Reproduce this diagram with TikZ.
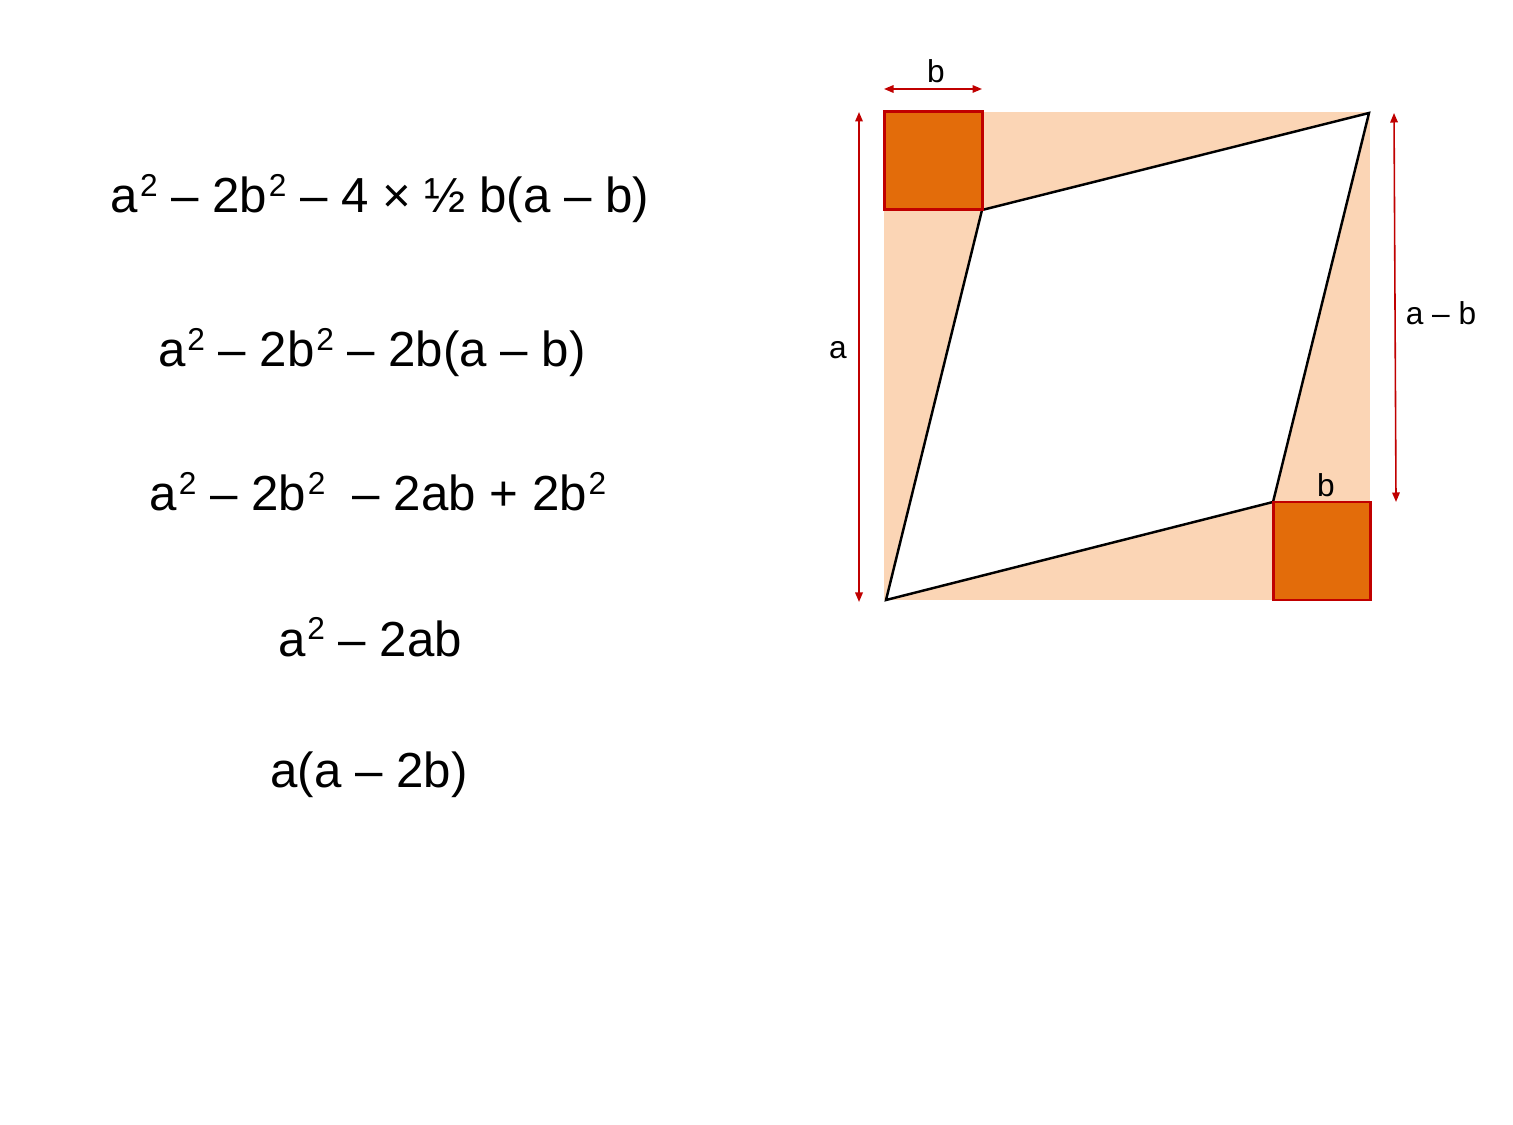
\documentclass[tikz,border=0pt]{standalone}
\usepackage{fontspec}
\setmainfont{Liberation Sans}
\usetikzlibrary{arrows.meta}
\definecolor{peach}{HTML}{FBD5B5}
\definecolor{burnt}{HTML}{E36C0A}
\definecolor{darkred}{HTML}{C00000}
\tikzset{
  eqn/.style={font=\fontsize{14pt}{17pt}\selectfont, anchor=base},
  lbl/.style={font=\fontsize{9pt}{11pt}\selectfont, inner sep=0pt},
  dimline/.style={draw=darkred, line width=0.45pt, {Triangle[length=0.95mm,width=0.75mm]}-{Triangle[length=0.95mm,width=0.75mm]}},
  bsq/.style={fill=burnt, draw=darkred, line width=0.85pt},
}
\newcommand\pw[1]{\kern0.5pt\raisebox{4.6pt}{\fontsize{9pt}{10pt}\selectfont #1}}

\begin{document}
\begin{tikzpicture}[x=0.01cm,y=-0.01cm]
	\useasboundingbox (0,0) rectangle (1513,1125);
	
	% outer square and corners of the rhombus
	\coordinate (tl) at (884,112);
	\coordinate (br) at (1370,600);
	\coordinate (p1) at (982,210);
	\coordinate (p2) at (1369,113);
	\coordinate (p3) at (1273,502);
	\coordinate (p4) at (886,600);
	
	\fill[peach] (tl) rectangle (br);
	\draw[fill=white, line width=0.7pt, line join=miter] (p1) -- (p2) -- (p3) -- (p4) -- cycle;
	\draw[bsq] (tl) rectangle (p1);
	\draw[bsq] (p3) rectangle (br);
	
	% dimension arrows
	\coordinate (b1) at (884,89);
	\coordinate (b2) at (982,89);
	\draw[dimline] (b1) -- (b2);
	\node[lbl] (lb1) at (936,71) {b};
	
	\coordinate (a1) at (859,112);
	\coordinate (a2) at (859,602);
	\draw[dimline] (a1) -- (a2);
	\node[lbl] (la) at (838,350) {a};
	
	\coordinate (c1) at (1394,113);
	\coordinate (c2) at (1396,502);
	\draw[dimline] (c1) -- (c2);
	\node[lbl] (lab) at (1441,313) {a – b};
	
	\node[lbl] (lb2) at (1326,485) {b};
	
	% working
	\node[eqn] (e1) at (380,213) {a\pw{2} – 2b\pw{2} – 4 × ½ b(a – b)};
	\node[eqn] (e2) at (372,367) {a\pw{2} – 2b\pw{2} – 2b(a – b)};
	\node[eqn] (e3) at (378,511) {a\pw{2} – 2b\pw{2} \ – 2ab + 2b\pw{2}};
	\node[eqn] (e4) at (370,656) {a\pw{2} – 2ab};
	\node[eqn] (e5) at (369,787) {a(a – 2b)};
\end{tikzpicture}
\end{document}
